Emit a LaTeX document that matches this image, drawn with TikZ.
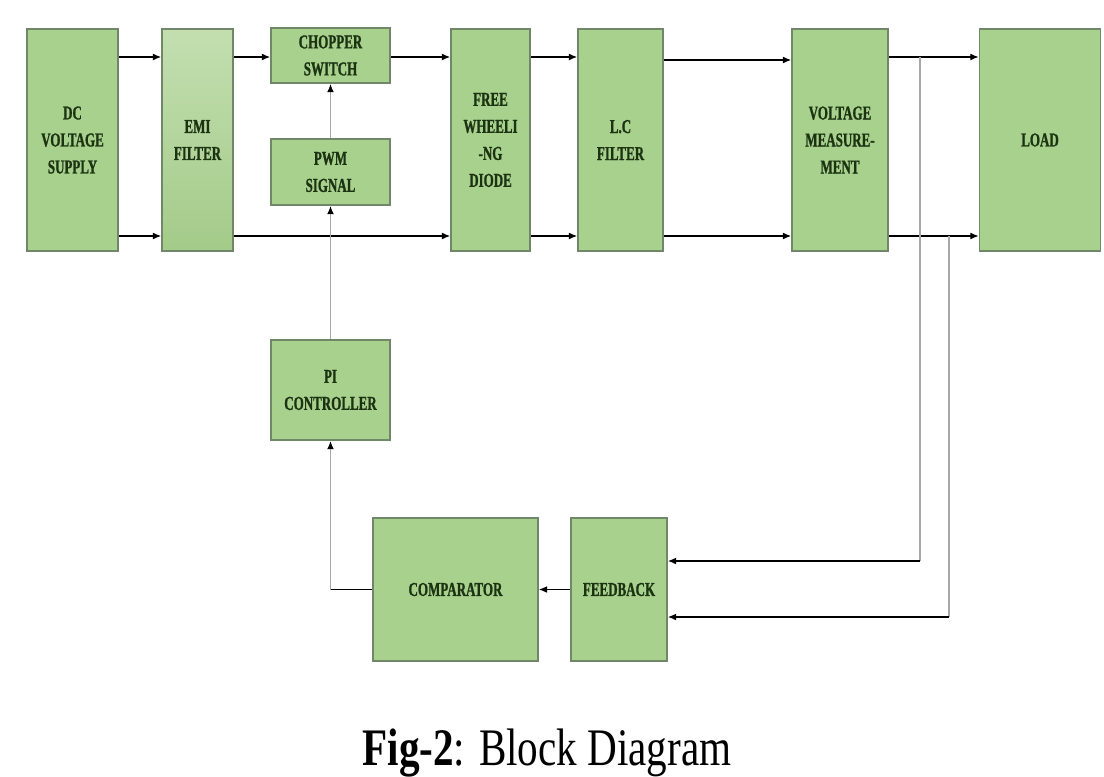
\documentclass[tikz,border=0pt]{standalone}
\usepackage{fontspec}
\setmainfont{Liberation Serif}
\newfontfamily\blockfont[FakeStretch=0.66,FakeBold=1]{Liberation Serif}
\newfontfamily\captionfont[FakeStretch=0.78]{Liberation Serif}
\usetikzlibrary{arrows.meta,calc}
\definecolor{boxgreen}{HTML}{A9D18E}
\definecolor{boxedge}{HTML}{71876A}
\definecolor{boxtext}{HTML}{1B3311}
\definecolor{wiregray}{HTML}{A8A8A8}

\begin{document}
\begin{tikzpicture}[x=0.025cm,y=-0.025cm,
  every node/.style={font=\blockfont\bfseries\fontsize{14}{19.2}\selectfont},
  blk/.style={draw=boxedge,line width=1.1pt,fill=boxgreen,text=boxtext,align=center,inner sep=0pt},
  wire/.style={line width=1pt,-{Latex[length=6pt,width=5pt]}},
  gwire/.style={draw=wiregray,line width=1.4pt,-{Latex[length=6pt,width=5pt,color=black]}}]
  \useasboundingbox[fill=white] (0,0) rectangle (1104,776);
  \node[blk,minimum width=2.275cm,minimum height=5.55cm] (dc) at (72.5,140) {DC\\VOLTAGE\\SUPPLY};
  \node[blk,minimum width=1.775cm,minimum height=5.55cm,top color=boxgreen!70!white,bottom color=boxgreen!97!black] (emi) at (197.5,140) {EMI\\FILTER};
  \node[blk,minimum width=2.975cm,minimum height=1.375cm] (chop) at (330.5,55.5) {CHOPPER\\SWITCH};
  \node[blk,minimum width=2.975cm,minimum height=1.65cm] (pwm) at (330.5,172) {PWM\\SIGNAL};
  \node[blk,minimum width=1.975cm,minimum height=5.55cm] (fwd) at (490.5,140) {FREE\\WHEELI\\-NG\\DIODE};
  \node[blk,minimum width=2.125cm,minimum height=5.55cm] (lc) at (620.5,140) {L.C\\FILTER};
  \node[blk,minimum width=2.4cm,minimum height=5.55cm] (vm) at (840,140) {VOLTAGE\\MEASURE-\\MENT};
  \node[blk,minimum width=3.025cm,minimum height=5.55cm] (load) at (1040,140) {LOAD};
  \node[blk,minimum width=2.975cm,minimum height=2.5cm] (pi) at (330.5,390) {PI\\CONTROLLER};
  \node[blk,minimum width=4.125cm,minimum height=3.575cm] (comp) at (455.5,589.5) {COMPARATOR};
  \node[blk,minimum width=2.4cm,minimum height=3.575cm] (fb) at (619,589.5) {FEEDBACK};
  \node[font=\captionfont\fontsize{37.5}{44}\selectfont,anchor=base] (cap) at (547,765) {\textbf{Fig-2}: Block Diagram};
  \coordinate (top) at (0,57);
  \coordinate (topb) at (0,60);
  \coordinate (bot) at (0,236);
  \coordinate (t1) at (920,57);
  \coordinate (t1b) at (920,561);
  \coordinate (t2) at (949,236);
  \coordinate (t2b) at (949,617);
  \coordinate (c1) at (comp.west -| pi.south);
  \draw[wire] (dc.east |- top) -- (emi.west |- top);
  \draw[wire] (dc.east |- bot) -- (emi.west |- bot);
  \draw[wire] (emi.east |- top) -- (chop.west |- top);
  \draw[wire] (chop.east |- top) -- (fwd.west |- top);
  \draw[wire] (emi.east |- bot) -- (fwd.west |- bot);
  \draw[wire] (fwd.east |- top) -- (lc.west |- top);
  \draw[wire] (fwd.east |- bot) -- (lc.west |- bot);
  \draw[wire] (lc.east |- topb) -- (vm.west |- topb);
  \draw[wire] (lc.east |- bot) -- (vm.west |- bot);
  \draw[wire] (vm.east |- top) -- (load.west |- top);
  \draw[wire] (vm.east |- bot) -- (load.west |- bot);
  \draw[gwire] (pwm) -- (chop);
  \draw[gwire] (pi) -- (pwm);
  \draw[draw=wiregray,line width=1.4pt] (t1) -- (t1b);
  \draw[draw=wiregray,line width=1.4pt] (t2) -- (t2b);
  \draw[wire] (t1b) -- (fb.east |- t1b);
  \draw[wire] (t2b) -- (fb.east |- t2b);
  \draw[wire] (fb) -- (comp);
  \draw[line width=1pt] (comp.west) -- (c1);
  \draw[gwire] (c1) -- (pi);
\end{tikzpicture}
\end{document}
